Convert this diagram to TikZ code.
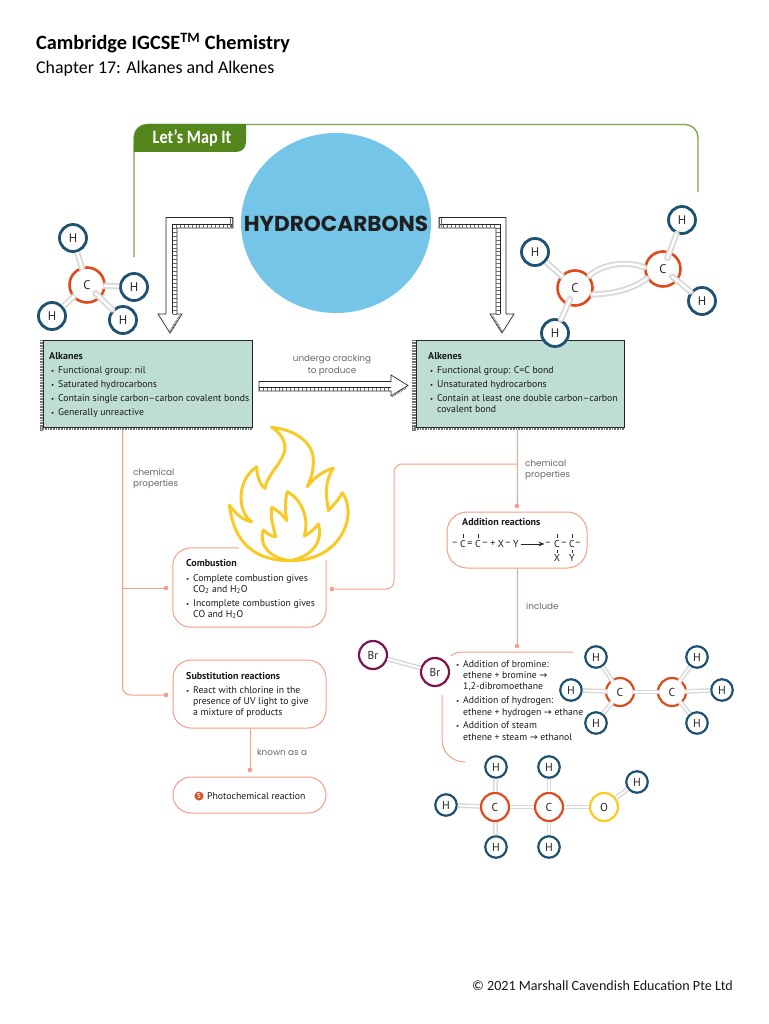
\documentclass[tikz,border=0pt]{standalone}
\usepackage{fontspec}
\setmainfont{Carlito}
\newfontfamily\bodyf{PT Sans}
\newfontfamily\popp{Poppins}
\newfontfamily\dejav{DejaVu Sans}
\usetikzlibrary{arrows.meta,shapes.geometric}
\definecolor{salm}{HTML}{F79C87}
\definecolor{grn}{HTML}{79A544}
\definecolor{grnd}{HTML}{54861C}
\definecolor{sky}{HTML}{75C5E8}
\definecolor{teal}{HTML}{BDDDD5}
\definecolor{hblue}{HTML}{1F5272}
\definecolor{corg}{HTML}{E2491B}
\definecolor{oyel}{HTML}{FCCB1E}
\definecolor{brmc}{HTML}{7B1550}
\definecolor{flam}{HTML}{F9C926}
\definecolor{bondc}{HTML}{D9D9D7}
\definecolor{lblc}{HTML}{666666}
\newcommand{\fsz}[1]{\fontsize{#1}{#1}\selectfont}
\newcommand{\arr}{{\dejav\fsz{9.5}→}}
\tikzset{
 x=1pt,y=-1pt,
 atomtxt/.style={circle,fill=white,inner sep=0pt,text=black!85,font=\bodyf\fsz{#1}},
 hbig/.style={atomtxt=12.5,draw=hblue,line width=2.8pt,minimum size=27pt},
 cbig/.style={atomtxt=12.5,draw=corg,line width=2.6pt,minimum size=35pt},
 hsm/.style={atomtxt=11.5,draw=hblue,line width=2.2pt,minimum size=21.5pt},
 csm/.style={atomtxt=11.5,draw=corg,line width=2.2pt,minimum size=28pt},
 osm/.style={atomtxt=11.5,draw=oyel,line width=2.2pt,minimum size=28pt},
 brm/.style={atomtxt=11.5,draw=brmc,line width=2.2pt,minimum size=28pt},
 bond/.style={draw=bondc,line width=1.5pt,double=white,double distance=#1},
 bond/.default=1.8pt,
 bigbond/.style={draw=bondc,line width=1.9pt,double=white,double distance=2.4pt},
 tocarbon/.style={bond,shorten >=-2.5pt},
 tocarbonb/.style={bigbond,shorten >=-2.5pt},
 deep/.style={bigbond,line cap=round,shorten >=-7pt},
 cc/.style={bond,shorten >=-2.5pt,shorten <=-2.5pt},
 sline/.style={draw=salm,line width=1pt},
 sbox/.style={sline,rounded corners=18pt,fill=white,inner sep=0pt},
 sdot/.style={circle,fill=salm,inner sep=0pt,minimum size=4.6pt},
 lbl/.style={font=\popp\fsz{8.8},text=lblc,align=left,anchor=west,inner sep=0pt},
 tbox/.style={fill=teal,draw=black!85,line width=1pt,inner sep=0pt},
 boxhatch/.style={draw=black!55,line width=3.2pt,dash pattern=on .7pt off .9pt},
 arrhatch/.style={draw=black!60,line width=3.4pt,dash pattern=on .7pt off 3.2pt},
 thin line/.style={draw=black!85,line width=.7pt},
 hollow/.style={fill=white,draw=black!85,line width=.7pt,line join=miter},
 tl/.style={anchor=base west,inner sep=0pt,font=\bodyf\fsz{9.75},text=black!90},
 tb/.style={tl,font=\bodyf\bfseries\fsz{10}},
 eqn/.style={inner sep=0pt,font=\bodyf\fsz{10},text=black!90},
 hd/.style={anchor=base west,inner sep=0pt,text=black},
}
\newcommand{\blt}{\makebox[7pt][l]{\scalebox{.7}{•}}}
\begin{document}
\begin{tikzpicture}
\useasboundingbox (0,0) rectangle (768,1024);
% headers
\node[hd,font=\bfseries\fsz{20.3}] (title) at (36,50) {Cambridge IGCSE\textsuperscript{TM} Chemistry};
\node[hd,font=\fsz{17.9}] (chap) at (36,73.5) {Chapter 17: Alkanes and Alkenes};
\node[anchor=base east,inner sep=0pt,font=\fsz{14.1},text=black!90] (copy) at (733,990) {© 2021 Marshall Cavendish Education Pte Ltd};
% green frame
\coordinate (gl) at (134,257);
\coordinate (gr) at (698,192);
\draw[grn,line width=1.3pt,rounded corners=13pt] (gl) -- (134,124.5) -- (698,124.5) -- (gr);
\fill[grnd] (134,152) -- (134,139) .. controls (134,130) and (140,124) .. (149,124) -- (246,124) -- (246,142) .. controls (246,148) and (242,152) .. (236,152) -- cycle;
\node[inner sep=0pt,text=white,font=\bfseries\fsz{19}] (map) at (192,138) {\scalebox{.85}[1]{Let’s Map It}};
% hydrocarbons
\node[ellipse,fill=sky,minimum width=190pt,minimum height=180pt,inner sep=0pt] (hc) at (336,223) {};
\node[inner sep=0pt,font=\popp\bfseries\fsz{21.6},text=black!88] (hct) at (336,224) {HYDROCARBONS};
% left L arrow
\draw[hollow] (233,217.5) -- (166,217.5) -- (166,314) -- (158,314) -- (170,333) -- (182,314) -- (177,314) -- (177,228) -- (233,228) -- cycle;
\draw[arrhatch] (176,226) -- (233,226);
\draw[arrhatch] (175,228) -- (175,314);
\draw[thin line] (233,224.3) -- (172.8,224.3) -- (172.8,314);
\draw[black!60,line width=2.6pt,dash pattern=on .7pt off 1pt] (180,316) -- (170.5,331);
\draw[black!60,line width=9pt,dash pattern=on .7pt off 1pt] (230,222.8) -- (233,222.8);
% right L arrow
\draw[hollow] (439,217.5) -- (506,217.5) -- (506,314) -- (514,314) -- (502,333) -- (490,314) -- (496,314) -- (496,228) -- (439,228) -- cycle;
\draw[arrhatch] (439,226) -- (496,226);
\draw[arrhatch] (498,228) -- (498,314);
\draw[thin line] (439,224.3) -- (500,224.3) -- (500,314);
\draw[black!60,line width=2.6pt,dash pattern=on .7pt off 1pt] (492,316) -- (501.5,331);
\draw[black!60,line width=9pt,dash pattern=on .7pt off 1pt] (439,222.8) -- (442,222.8);
% horizontal arrow
\draw[hollow] (259,381.5) -- (391,381.5) -- (391,375) -- (408,385.5) -- (391,396) -- (391,391) -- (259,391) -- cycle;
\draw[arrhatch] (259,389) -- (391,389);
\draw[thin line] (259,387) -- (391,387);
\draw[black!60,line width=2.6pt,dash pattern=on .7pt off 1pt] (392,396) -- (406,387.5);
\node[lbl,anchor=center,align=center] (crack) at (332,365.5) {undergo cracking\\[2.2pt]to produce};
% boxes
\draw[boxhatch] (41.5,340) -- (41.5,430.5);
\draw[boxhatch] (40,428.8) -- (252,428.8);
\node[tbox,minimum width=209pt,minimum height=87pt] (alk) at (147.5,383.5) {};
\draw[boxhatch] (414,340) -- (414,430.5);
\draw[boxhatch] (412,428.8) -- (624,428.8);
\node[tbox,minimum width=208pt,minimum height=87pt] (ene) at (520,383.5) {};
\node[tb] (alk0) at (49,359.5) {Alkanes};
\node[tl] (alk1) at (51,373.5) {\blt Functional group: nil};
\node[tl] (alk2) at (51,387.5) {\blt Saturated hydrocarbons};
\node[tl] (alk3) at (51,401.5) {\blt Contain single carbon–carbon covalent bonds};
\node[tl] (alk4) at (51,415.5) {\blt Generally unreactive};
\node[tb] (ene0) at (428,359.5) {Alkenes};
\node[tl] (ene1) at (430,373.5) {\blt Functional group: C=C bond};
\node[tl] (ene2) at (430,387.5) {\blt Unsaturated hydrocarbons};
\node[tl] (ene3) at (430,401) {\blt Contain at least one double carbon–carbon};
\node[tl] (ene4) at (437,412) {covalent bond};
% methane
\node[cbig] (mc) at (87,285) {C};
\node[hbig] (mh1) at (73,238) {H};
\node[hbig] (mh2) at (134,287) {H};
\node[hbig] (mh3) at (52,316) {H};
\node[hbig] (mh4) at (123,320) {H};
\draw[tocarbonb] (mh1) -- (mc);
\draw[tocarbonb] (mh2) -- (mc);
\draw[tocarbonb] (mh3) -- (mc);
\draw[deep] (mh4) -- (mc);
% ethene
\node[cbig] (ec1) at (575,288) {C};
\node[cbig] (ec2) at (663,269) {C};
\node[hbig] (eh1) at (535,252) {H};
\node[hbig] (eh2) at (682,220) {H};
\node[hbig] (eh3) at (555,333) {H};
\node[hbig] (eh4) at (702,301) {H};
\draw[tocarbonb] (eh1) -- (ec1);
\draw[deep] (eh2) -- (ec2);
\draw[deep] (eh3) -- (ec1);
\draw[deep] (eh4) -- (ec2);
\draw[bigbond,line cap=round] (ec1.40) .. controls (600,265) and (625,260) .. (ec2.175);
\draw[bigbond,line cap=round] (ec1.-20) .. controls (615,294) and (635,288) .. (ec2.-150);
% connectors
\node[sdot] (d1) at (166,588) {};
\node[sdot] (d2) at (166,695) {};
\node[sdot] (d3) at (250,770) {};
\node[sdot] (d4) at (332,589) {};
\node[sdot] (d5) at (517,506) {};
\node[sdot] (d6) at (517,646) {};
\coordinate (a1) at (122.5,588);
\coordinate (a2) at (517,464);
\coordinate (sa) at (122.5,430);
\coordinate (sb) at (517,430);
\node[sbox,minimum width=153pt,minimum height=68pt] (sub) at (249.5,694) {};
\node[sbox,minimum width=153pt,minimum height=36pt] (pho) at (249.5,795) {};
\node[sbox,minimum width=140pt,minimum height=56pt,rounded corners=20pt] (add) at (517,540) {};
\draw[sline,rounded corners=8pt] (sa) -- (122.5,695) -- (d2);
\draw[sline] (a1) -- (d1);
\draw[sline] (sub.south -| d3) -- (d3);
\draw[sline] (sb) -- (d5);
\draw[sline,rounded corners=8pt] (a2) -- (394,464) -- (394,589) -- (d4);
\draw[sline] (add.south) -- (d6);
% combustion box (open)
\node[inner sep=0pt,minimum width=153pt,minimum height=79pt] (com) at (249.5,587.5) {};
\draw[sline,rounded corners=18pt] (239,548) -- (com.north west) -- (com.south west) -- (com.south east) -- (326,560);
% partial list box
\coordinate (pa) at (573,652);
\coordinate (pb) at (465,762);
\coordinate (pc) at (442,695);
\coordinate (pd) at (451,656);
\draw[sline] (pa) -- (462,652) .. controls (458,652) and (454,653.5) .. (pd);
\draw[sline] (pc) -- (442,740) .. controls (442,752) and (452,762) .. (pb);
% flame
\begin{scope}[shift={(110,420)},x=1/3*1pt,y=-1/3*1pt,flam,line width=3pt,line join=round]
\draw (485,22) .. controls (560,30) and (612,70) .. (610,125) .. controls (610,160) and (600,180) .. (592,200)
 .. controls (615,170) and (645,150) .. (670,145) .. controls (640,190) and (650,235) .. (655,272)
 .. controls (670,255) and (690,235) .. (697,218) .. controls (720,250) and (725,310) .. (680,365)
 .. controls (640,410) and (590,422) .. (540,422) .. controls (480,422) and (430,405) .. (395,360)
 .. controls (370,325) and (362,285) .. (358,255) .. controls (375,280) and (400,302) .. (425,305)
 .. controls (385,280) and (375,185) .. (440,140) .. controls (440,165) and (450,195) .. (465,205)
 .. controls (470,165) and (525,120) .. (525,85) .. controls (525,55) and (505,35) .. (485,22) -- cycle;
\draw (540,422) .. controls (480,415) and (445,375) .. (460,330) .. controls (470,340) and (485,350) .. (497,350)
 .. controls (490,320) and (480,290) .. (485,262) .. controls (500,270) and (520,285) .. (530,302)
 .. controls (525,270) and (525,240) .. (532,215) .. controls (570,235) and (600,290) .. (583,348)
 .. controls (600,340) and (615,325) .. (625,312) .. controls (640,360) and (610,410) .. (540,422);
\end{scope}
% labels
\node[lbl] (l1) at (133,478.5) {chemical\\[2.2pt]properties};
\node[lbl] (l2) at (525,469.5) {chemical\\[2.2pt]properties};
\node[lbl] (l3) at (526,606.5) {include};
\node[lbl] (l4) at (257,752) {known as a};
% combustion text
\node[tb] (c0) at (186,566.5) {Combustion};
\node[tl] (c1) at (186,581) {\blt Complete combustion gives};
\node[tl] (c2) at (193,592) {CO\textsubscript{2} and H\textsubscript{2}O};
\node[tl] (c3) at (186,606) {\blt Incomplete combustion gives};
\node[tl] (c4) at (193,617) {CO and H\textsubscript{2}O};
\node[tb] (s0) at (186,679) {Substitution reactions};
\node[tl] (s1) at (186,693) {\blt React with chlorine in the};
\node[tl] (s2) at (193,704.5) {presence of UV light to give};
\node[tl] (s3) at (193,715.5) {a mixture of products};
\node[circle,fill=corg,inner sep=0pt,minimum size=9pt,text=white,font=\bodyf\bfseries\fsz{7}] (sbadge) at (199,796) {S};
\node[tl,anchor=west] (ptxt) at (207,796) {Photochemical reaction};
% addition text
\node[tb] (add0) at (462,525) {Addition reactions};
\foreach \nm/\xx/\tx in {q1/455/–,q2/463/C,q3/470/=,q4/478/C,q5/485/–,q6/493/+,q7/501/X,q8/508/–,q9/516/Y,q10/548/–,q11/557/C,q12/564/–,q13/572/C,q14/578/–}
  \node[eqn] (\nm) at (\xx,544) {\tx};
\node[eqn] (qx) at (557,558) {X};
\node[eqn] (qy) at (572,558) {Y};
\draw[black!85,line width=.8pt,-{Stealth[length=6pt,width=4.5pt]}] (q9.east) ++(2,0) coordinate (qs) (qs) -- (q10.west);
\foreach \at in {q2,q4,q11,q13}
  \draw[black!85,line width=.8pt] (\at) ++(0,-10) -- ++(0,3.5);
\foreach \at in {q11,q13}
  \draw[black!85,line width=.8pt] (\at) ++(0,5.5) -- ++(0,3.5);
% list
\node[tl] (r1) at (456,667) {\blt Addition of bromine:};
\node[tl] (r2) at (463,678.5) {ethene + bromine \arr};
\node[tl] (r3) at (463,689.5) {1,2-dibromoethane};
\node[tl] (r4) at (456,703) {\blt Addition of hydrogen:};
\node[tl] (r5) at (463,715) {ethene + hydrogen \arr\ ethane};
\node[tl] (r6) at (456,728) {\blt Addition of steam};
\node[tl] (r7) at (463,740) {ethene + steam \arr\ ethanol};
% bromine
\node[brm] (br1) at (373,655) {Br};
\node[brm] (br2) at (435,672) {Br};
\draw[bond] (br1) -- (br2);
% dibromoethane-side molecule
\node[csm] (p1) at (620,692) {C};
\node[csm] (p2) at (672,692) {C};
\node[hsm] (ph1) at (596,657) {H};
\node[hsm] (ph2) at (571,690) {H};
\node[hsm] (ph3) at (596,723) {H};
\node[hsm] (ph4) at (697,657) {H};
\node[hsm] (ph5) at (722,690) {H};
\node[hsm] (ph6) at (697,723) {H};
\foreach \hh/\cc in {ph1/p1,ph2/p1,ph3/p1,ph4/p2,ph5/p2,ph6/p2}
  \draw[tocarbon] (\hh) -- (\cc);
\draw[cc] (p1) -- (p2);
% ethanol
\node[csm] (t1) at (495,807) {C};
\node[csm] (t2) at (549,807) {C};
\node[osm] (to) at (604,807) {O};
\node[hsm] (th1) at (496,767) {H};
\node[hsm] (th2) at (549,767) {H};
\node[hsm] (th3) at (446,805) {H};
\node[hsm] (th4) at (496,847) {H};
\node[hsm] (th5) at (549,847) {H};
\node[hsm] (th6) at (637,782) {H};
\foreach \hh/\cc in {th1/t1,th2/t2,th3/t1,th4/t1,th5/t2,th6/to}
  \draw[bond] (\hh) -- (\cc);
\draw[bond] (t1) -- (t2);
\draw[bond] (t2) -- (to);
\end{tikzpicture}
\end{document}
